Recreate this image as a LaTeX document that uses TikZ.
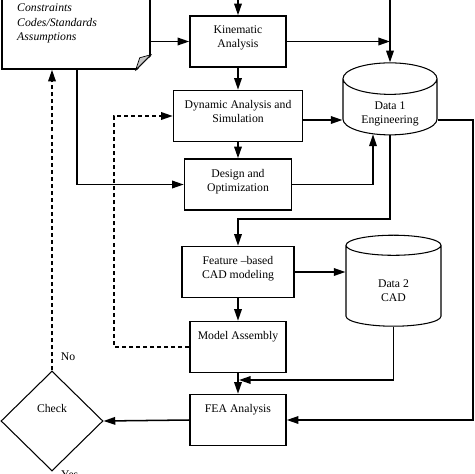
\documentclass[tikz,border=0pt]{standalone}
\usepackage{fontspec}
\setmainfont{Liberation Serif}
\usetikzlibrary{positioning, arrows.meta, calc, shapes.geometric}
\def\pxu{0.03cm}
\newcommand\boxfont{\fontsize{10}{12}\selectfont}
\tikzset{
  proc/.style    = {draw, rectangle, line width=1.3pt, minimum height=51*\pxu,
                    inner sep=0pt},
  intxt/.style   = {anchor=north, align=center, font=\boxfont, inner xsep=0pt,
                    inner ysep=9pt},
  db/.style      = {draw, cylinder, shape border rotate=90, line width=0.9pt,
                    font=\boxfont, inner sep=0pt},
  dbtxt/.style   = {anchor=center, align=center, font=\boxfont, inner sep=0pt},
  chk/.style     = {draw, diamond, line width=0.9pt, minimum width=102*\pxu,
                    minimum height=100*\pxu, inner sep=0pt, font=\boxfont,
                    text depth=22pt},
  specbox/.style = {draw, rectangle, line width=1.3pt, inner sep=0pt},
  spectxt/.style = {anchor=north west, align=left, font=\boxfont\itshape,
                    inner sep=0pt},
  ar/.style      = {-{Triangle[length=10pt, width=6.5pt]}, line width=1.3pt},
  dar/.style     = {ar, dash pattern=on 3.4pt off 2.6pt},
  lbl/.style     = {font=\boxfont, inner sep=0pt},
}

\begin{document}
\begin{tikzpicture}[x=\pxu, y=-\pxu]
  \useasboundingbox (0,0) rectangle (474,474);

  % input sheet with folded corner
  \node[specbox, minimum width=148*\pxu, minimum height=94*\pxu] (spec) at (76,22) {};
  \fill[white] ($(spec.south east)+(-15,1.5)$) -- ($(spec.south east)+(1.5,1.5)$)
    -- ($(spec.south east)+(1.5,-15)$) -- cycle;
  \draw[line width=1.3pt] ($(spec.south east)+(-15,0)$) -- ($(spec.south east)+(0,-15)$);
  \filldraw[fill=gray!45, line width=0.6pt] ($(spec.south east)+(-15,0)$)
    -- ($(spec.south east)+(0,-15)$) -- ($(spec.south east)+(-11,-12)$) -- cycle;
  \node[spectxt] (spectext) at (17,4) {Constraints\\Codes/Standards\\Assumptions};

  % process steps
  \node[proc, minimum width=96*\pxu,  label={[intxt]north:{Kinematic\\Analysis}}] (kin) at (238,41.5) {};
  \node[proc, minimum width=129*\pxu, label={[intxt]north:{Dynamic Analysis and\\Simulation}}] (dyn) at (238,116) {};
  \node[proc, minimum width=107*\pxu, label={[intxt]north:{Design and\\Optimization}}] (des) at (238,184.5) {};
  \node[proc, minimum width=112*\pxu, label={[intxt]north:{Feature --based\\CAD modeling}}] (feat) at (238,272) {};
  \node[proc, minimum width=96*\pxu,  label={[intxt]north:{Model Assembly}}] (asm) at (238,347) {};
  \node[proc, minimum width=96*\pxu,  label={[intxt]north:{FEA Analysis}}] (fea) at (238,420) {};

  % databases
  \node[db, aspect=0.55, minimum width=94*\pxu, minimum height=72*\pxu,
        label={[dbtxt, yshift=-5.5pt]center:{Data 1\\Engineering}}] (d1) at (390,107) {\phantom{Engineering}};
  \node[db, aspect=0.65, minimum width=95*\pxu, minimum height=91*\pxu,
        label={[dbtxt, yshift=-4pt]center:{Data 2\\CAD}}] (d2) at (393.5,286) {\phantom{Data 2}};

  % decision
  \node[chk] (check) at (52,421) {Check};
  \node[lbl] (no) at (68,357) {No};
  \node[lbl, anchor=north west] (yes) at (61,471) {Yes};

  % helper coordinates
  \coordinate (kinin) at (238,-10);
  \coordinate (d1in) at (390,-10);
  \coordinate (lvl) at (0,120);
  \coordinate (sd) at (77,0);
  \coordinate (dr) at (373,0);
  \coordinate (j1) at (0,219);
  \coordinate (j2) at (0,380);
  \coordinate (rt) at (473,0);
  \coordinate (fb) at (114,0);

  % connectors
  \draw[ar] (kinin) -- (kin.north);
  \draw[ar] (d1in) -- (d1.north);
  \draw[ar] (spec.east |- kin.west) -- (kin.west);
  \draw[ar] (kin.east) -- (kin.east -| d1.north);
  \draw[ar] (kin.south) -- (dyn.north);
  \draw[ar] (dyn.east |- lvl) -- (d1.west |- lvl);
  \draw[ar] (dyn.south) -- (des.north);
  \draw[ar] (spec.south -| sd) |- (des.west);
  \draw[ar] (des.east) -| ($(d1.south -| dr)+(0,-1)$);
  \draw[ar] (d1.south) -- (d1.south |- j1) -| (feat.north);
  \draw[ar] (feat.east) -- (feat.east -| d2.west);
  \draw[ar] (feat.south) -- (asm.north);
  \draw[ar] (asm.south) -- (fea.north);
  \draw[ar] (d2.south) |- ($(asm.south |- j2)+(1,0)$);
  \draw[ar] (d1.east |- lvl) -- (rt |- lvl) |- (fea.east);
  \draw[ar] (fea.west) -- (check.east);
  \draw[dar] (asm.west) -| (fb |- dyn.west) -- (dyn.west);
  \draw[dar] (check.north) -- (check.north |- spec.south);
\end{tikzpicture}
\end{document}
